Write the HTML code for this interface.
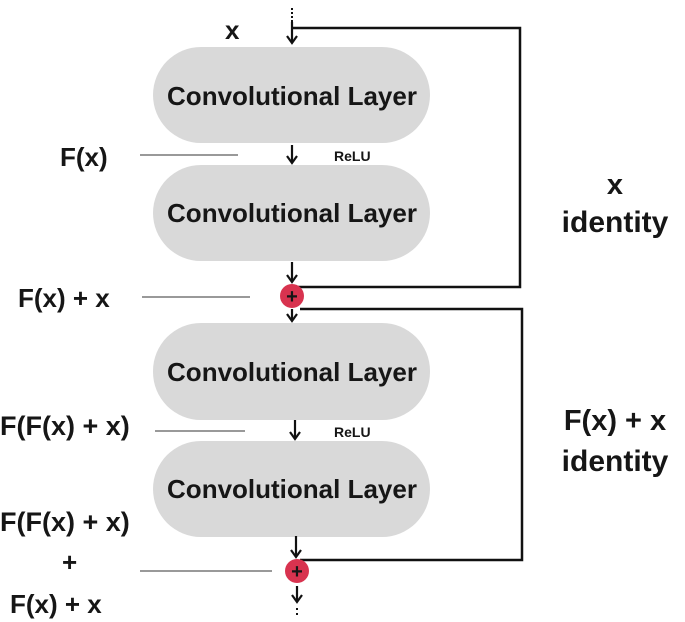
<!DOCTYPE html>
<html><head><meta charset="utf-8"><style>
html,body{margin:0;padding:0;background:#fff;}
svg{display:block;}
text{font-family:"Liberation Sans",sans-serif;font-weight:bold;fill:#161616;}
</style></head><body>
<svg width="685" height="622" viewBox="0 0 685 622" xmlns="http://www.w3.org/2000/svg">
<rect x="153" y="47" width="277" height="96" rx="48" fill="#d9d9d9"/>
<rect x="153" y="165" width="277" height="96" rx="48" fill="#d9d9d9"/>
<rect x="153" y="323" width="277" height="97" rx="48" fill="#d9d9d9"/>
<rect x="153" y="441" width="277" height="96" rx="48" fill="#d9d9d9"/>
<g font-size="26" text-anchor="middle">
<text x="292" y="105">Convolutional Layer</text>
<text x="292" y="222">Convolutional Layer</text>
<text x="292" y="381">Convolutional Layer</text>
<text x="292" y="498">Convolutional Layer</text>
</g>
<line x1="292" y1="8" x2="292" y2="22" stroke="#111" stroke-width="2" stroke-dasharray="2,2"/>
<g stroke="#111" stroke-width="2.2" fill="none">
<line x1="292" y1="22" x2="292" y2="42"/><path d="M287,36 L292,43 L297,36"/>
<line x1="292" y1="145" x2="292" y2="162"/><path d="M287,156 L292,163 L297,156"/>
<line x1="292" y1="262" x2="292" y2="281"/><path d="M287,275 L292,282 L297,275"/>
<line x1="292" y1="309" x2="292" y2="320"/><path d="M287,314 L292,321 L297,314"/>
<line x1="295" y1="420" x2="295" y2="438"/><path d="M290,432 L295,439 L300,432"/>
<line x1="296" y1="536" x2="296" y2="556"/><path d="M291,550 L296,557 L301,550"/>
<line x1="297" y1="586" x2="297" y2="601"/><path d="M292,595 L297,602 L302,595"/>
</g>
<line x1="297" y1="608" x2="297" y2="618" stroke="#111" stroke-width="2" stroke-dasharray="2,3"/>
<polyline points="292,28 520,28 520,287 298,287" fill="none" stroke="#111" stroke-width="2.5"/>
<polyline points="300,309 522,309 522,560 300,560" fill="none" stroke="#111" stroke-width="2.5"/>
<circle cx="292" cy="296" r="12" fill="#d8334f"/>
<text x="292" y="303" font-size="20" text-anchor="middle">+</text>
<circle cx="297" cy="571" r="12" fill="#d8334f"/>
<text x="297" y="578" font-size="20" text-anchor="middle">+</text>
<g stroke="#333" stroke-width="1">
<line x1="140" y1="155" x2="238" y2="155"/>
<line x1="142" y1="297" x2="250" y2="297"/>
<line x1="155" y1="431" x2="245" y2="431"/>
<line x1="140" y1="571" x2="272" y2="571"/>
</g>
<g font-size="26">
<text x="225" y="39">x</text>
<text x="60" y="166">F(x)</text>
<text x="18" y="307">F(x) + x</text>
<text x="0" y="435" font-size="27">F(F(x) + x)</text>
<text x="0" y="531" font-size="27">F(F(x) + x)</text>
<text x="62" y="571">+</text>
<text x="10" y="613">F(x) + x</text>
</g>
<g font-size="14">
<text x="334" y="161">ReLU</text>
<text x="334" y="437">ReLU</text>
</g>
<g font-size="29" text-anchor="middle">
<text x="615" y="194">x</text>
<text x="615" y="232" font-size="30">identity</text>
<text x="615" y="430">F(x) + x</text>
<text x="615" y="471" font-size="30">identity</text>
</g>
</svg>
</body></html>
